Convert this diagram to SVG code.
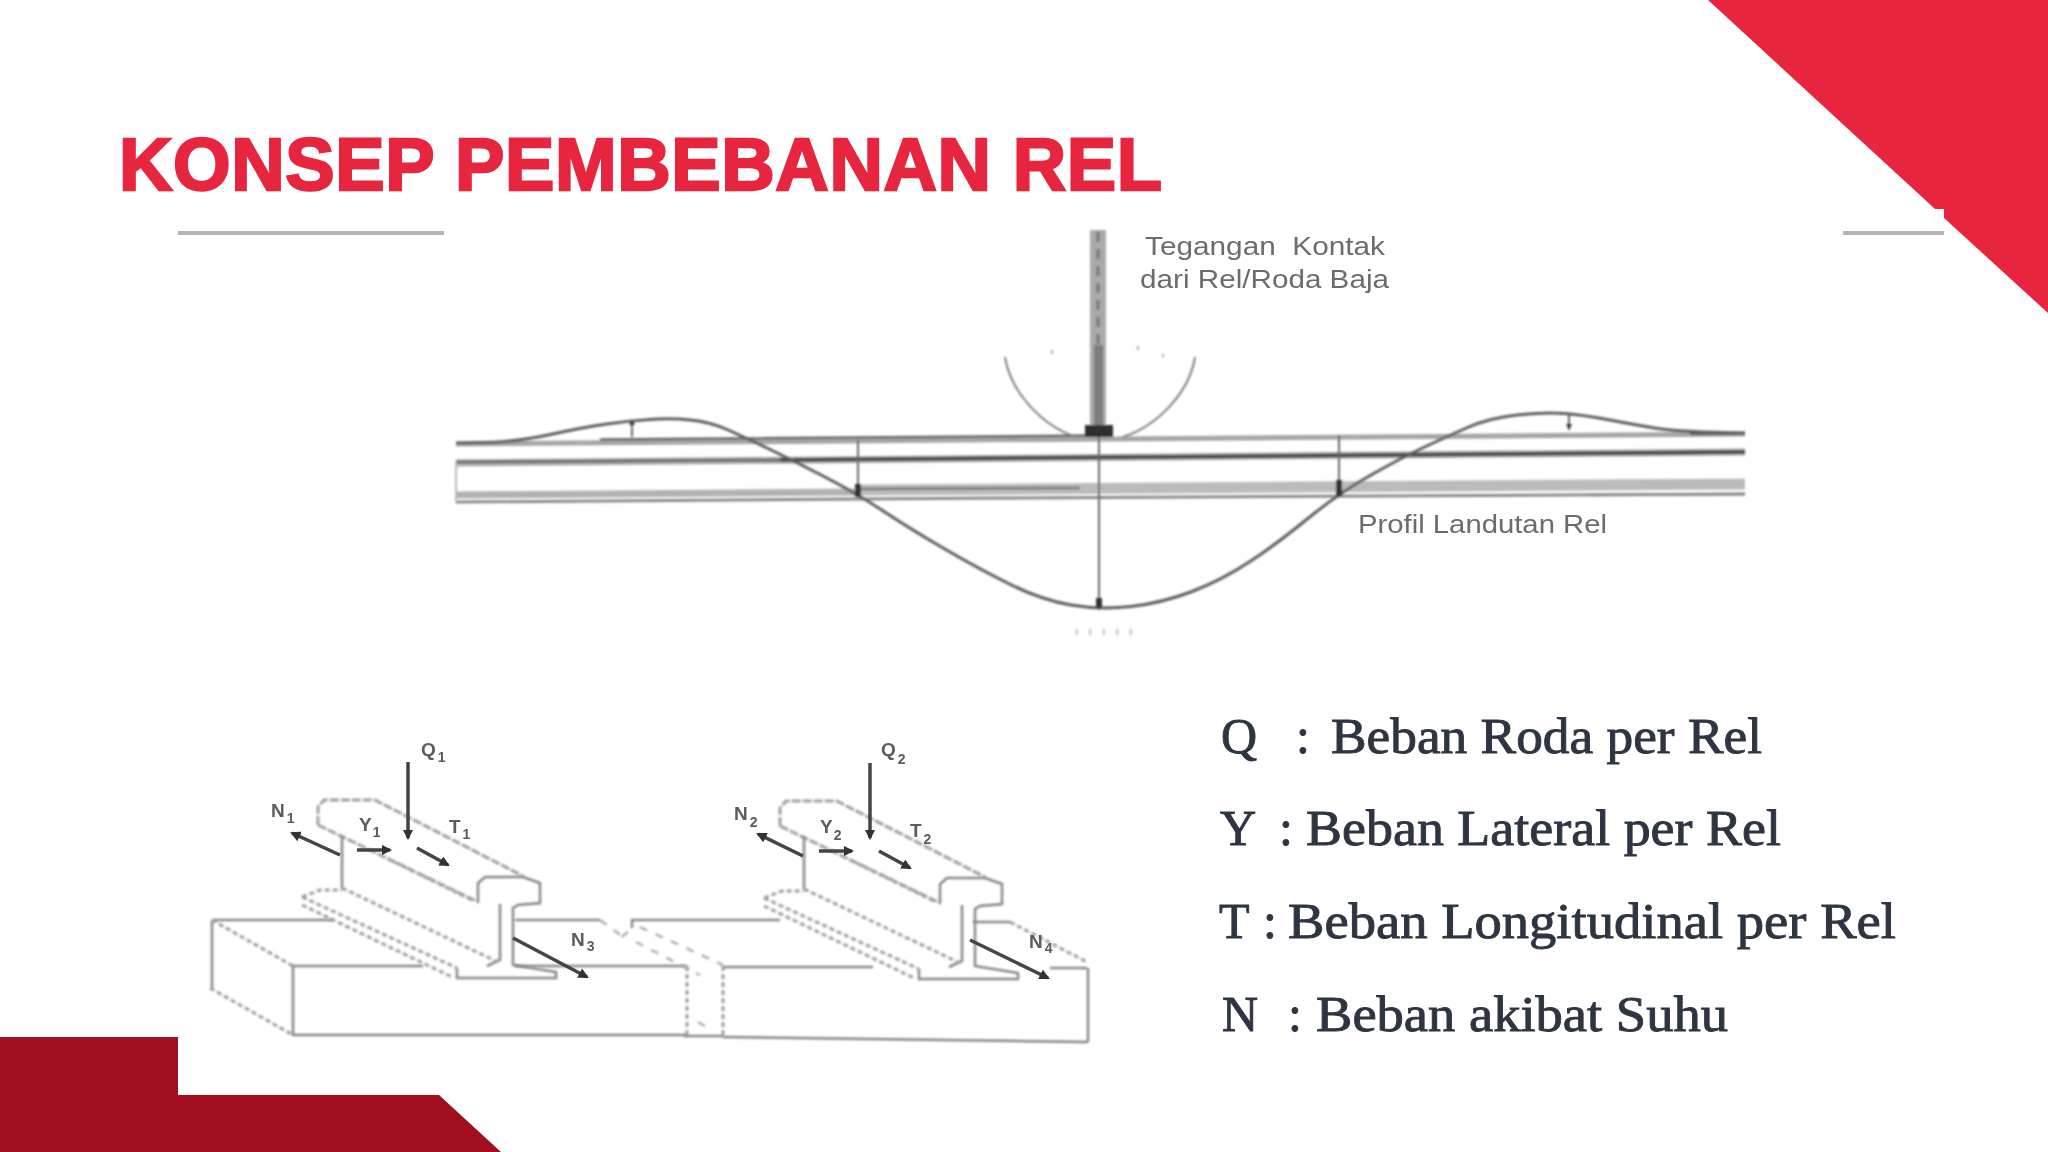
<svg xmlns="http://www.w3.org/2000/svg" xmlns:xlink="http://www.w3.org/1999/xlink" width="2048" height="1152" viewBox="0 0 2048 1152">
<style>
.ln{fill:none;stroke:#868686;stroke-width:2.5}
.lt{fill:none;stroke:#a0a0a0;stroke-width:3;stroke-dasharray:9 2}
.dsh{fill:none;stroke:#a0a0a0;stroke-width:3;stroke-dasharray:5 3}
.gap{fill:none;stroke:#b0b0b0;stroke-width:2.5;stroke-dasharray:8 9}
.ar{fill:none;stroke:#444;stroke-width:3.5}
.lab{font-family:"Liberation Sans",Arial,sans-serif;font-size:19px;font-weight:bold;fill:#5c5c5c}
.sub{font-size:14px}
.cap{font-family:"Liberation Sans",Arial,sans-serif;font-size:26px;fill:#6c6c6c}
.leg{font-family:"Liberation Serif","Times New Roman",serif;font-size:50px;fill:#2f3642;stroke:#2f3642;stroke-width:.9}
.rule{fill:#b4b4b4}
</style>
<defs>
<filter id="soft" x="-5%" y="-5%" width="110%" height="110%"><feGaussianBlur stdDeviation="0.9"/></filter>
<filter id="softer" x="-5%" y="-5%" width="110%" height="110%"><feGaussianBlur stdDeviation="0.7"/></filter>
<marker id="hd" markerWidth="3" markerHeight="3" refX="2.4" refY="1.5" orient="auto-start-reverse"><path d="M0 0L3 1.5L0 3Z" fill="#333"/></marker>
<g id="rail">
<path class="lt" d="M318 825V807L324 800H375L523 876"/>
<path class="lt" d="M318 825L478 902"/>
<path class="ln" d="M478 903V883L485 877H523L540 883V903L518 905L513 908V965L556 972V978H457V968"/>
<path class="ln" d="M500 904V960L487 966"/>
<path class="ln" d="M342 835V888"/>
<path class="dsh" d="M342 888L500 963"/>
<path class="dsh" d="M302 897L320 890H342"/>
<path class="dsh" d="M302 897L457 968"/>
<path class="dsh" d="M302 905L452 977"/>
<path class="dsh" d="M388 859L472 900"/>
</g>
</defs>
<rect width="2048" height="1152" fill="#fff"/>

<g id="decor-top"><path d="M1708 0H2048V313L1944 218V209H1935Z" fill="#e8253f"/></g>
<g id="decor-bottom"><path d="M0 1037H178V1095H439L501 1152H0Z" fill="#a00e20"/></g>

<g id="title"><text x="119" y="190" font-family="Liberation Sans,Arial,sans-serif" font-size="74" font-weight="bold" fill="#e8253f" stroke="#e8253f" stroke-width="2.4" textLength="1043" lengthAdjust="spacing">KONSEP PEMBEBANAN REL</text></g>
<rect class="rule" x="178" y="231" width="266" height="4"/>
<rect class="rule" x="1843" y="231" width="101" height="4"/>

<g id="profile" filter="url(#soft)">
<path d="M456 444L1745 434" stroke="#a6a6a6" stroke-width="5" fill="none"/>
<path d="M600 439.5L1100 435.5M1690 434L1745 433.5" stroke="#666" stroke-width="2.5" fill="none"/>
<path d="M456 463L1745 452" stroke="#ababab" stroke-width="7" fill="none"/>
<path d="M780 460L1745 452" stroke="#444" stroke-width="3.5" fill="none"/>
<path d="M456 462L780 460" stroke="#666" stroke-width="2.5" fill="none"/>
<path d="M456 495L860 492" stroke="#b2b2b2" stroke-width="7" fill="none"/>
<path d="M860 490L1745 484" stroke="#bbb" stroke-width="11" fill="none"/>
<path d="M860 489L1080 488M1590 495L1745 494" stroke="#777" stroke-width="2.5" fill="none"/>
<path d="M456 502L1000 498L1745 494" stroke="#8a8a8a" stroke-width="3" fill="none"/>
<path d="M456 462V502" stroke="#bbb" stroke-width="2" fill="none"/>
<path d="M456 443L486 442.5Q516 442 550.5 434.5Q585 427 606.5 424Q628 421 649.5 419.5Q671 418 690.5 420Q710 422 727 429.5Q744 437 768 448.5Q792 460 824 476.5Q856 493 884 511.5Q912 530 946.5 550Q981 570 1011.5 585Q1042 600 1071 605Q1100 610 1131 606.5Q1162 603 1192 591.5Q1222 580 1250 561.5Q1278 543 1308.5 518Q1339 493 1371 475Q1403 457 1424.5 447Q1446 437 1467.5 427.5Q1489 418 1517 415Q1545 412 1564.5 413.5Q1584 415 1610 420Q1636 425 1657.5 428.5Q1679 432 1745 433" fill="none" stroke="#5e5e5e" stroke-width="3"/>
<path d="M1005 357C1010 390 1040 425 1076 437M1195 357C1190 390 1160 425 1123 437" fill="none" stroke="#7e7e7e" stroke-width="2"/>
<rect x="1090" y="230" width="16" height="197" fill="#aaa"/>
<rect x="1094" y="345" width="9" height="82" fill="#7d7d7d"/>
<path d="M1098 232V345" stroke="#808080" stroke-width="4" stroke-dasharray="10 7" fill="none"/>
<rect x="1085" y="425" width="28" height="12" fill="#2e2e2e"/>
<path d="M858 440V493M1099 437V610M1339 435V490M632 422V437M1569 415V430" stroke="#666" stroke-width="2" fill="none"/>
<path d="M855 484h6v13h-6zM1336 480h6v16h-6zM1096 598h6v10h-6zM629 425l3-5l3 5zM1566 424h6l-3 6z" fill="#333"/>
<path d="M1076 632H1132" stroke="#aaa" stroke-width="6" stroke-dasharray="1.5 12" fill="none"/>
<path d="M1052 350v4M1138 346v4M1163 354v3" stroke="#aaa" stroke-width="2" fill="none"/>
</g>

<g id="profile-labels" filter="url(#softer)">
<text class="cap" x="1145" y="255" xml:space="preserve" textLength="240" lengthAdjust="spacingAndGlyphs">Tegangan  Kontak</text>
<text class="cap" x="1140" y="288" textLength="249" lengthAdjust="spacingAndGlyphs">dari Rel/Roda Baja</text>
<text class="cap" x="1358" y="533" textLength="249" lengthAdjust="spacingAndGlyphs">Profil Landutan Rel</text>
</g>

<g id="sleeper-left" filter="url(#soft)">
<path class="ln" d="M212 920V988M293 966V1035H687M293 966H423M515 966H687M212 920H333M515 920H600"/>
<path class="dsh" d="M212 920L293 966M210 988L293 1035"/>
<path class="dsh" d="M687 966V1035"/>
<path class="gap" d="M600 920L623 937"/>
</g>
<g id="sleeper-right" filter="url(#soft)">
<path class="ln" d="M632 928V920H780M723 967H873M973 922H1010M1050 968H1087M1088 968V1042M723 1037L1088 1042"/>
<path class="gap" d="M640 927L723 965M636 942L700 975"/>
<path class="dsh" d="M723 966V1037"/>
<path class="dsh" d="M1010 922L1087 962"/>
<path class="gap" d="M622 937L632 928M698 1022L708 1028"/>
<path class="ln" d="M684 1036H723"/>
</g>

<g id="rail-left" filter="url(#soft)"><use xlink:href="#rail" href="#rail"/></g>
<g id="rail-right" filter="url(#soft)"><use xlink:href="#rail" href="#rail" transform="translate(462 1)"/></g>

<g id="connectors" filter="url(#softer)">
<path class="ar" d="M408 762V838" marker-end="url(#hd)"/>
<path class="ar" d="M340 855L292 833" marker-end="url(#hd)"/>
<path class="ar" d="M357 850H390" marker-end="url(#hd)"/>
<path class="ar" d="M417 848L448 865" marker-end="url(#hd)"/>
<path class="ar" d="M513 938L587 977" marker-end="url(#hd)"/>
<path class="ar" d="M870 763V838" marker-end="url(#hd)"/>
<path class="ar" d="M803 856L758 834" marker-end="url(#hd)"/>
<path class="ar" d="M819 851H852" marker-end="url(#hd)"/>
<path class="ar" d="M879 851L910 868" marker-end="url(#hd)"/>
<path class="ar" d="M970 940L1048 978" marker-end="url(#hd)"/>
</g>

<g id="rail-labels" filter="url(#softer)">
<text class="lab" x="421" y="756">Q<tspan class="sub" dx="2" dy="6">1</tspan></text>
<text class="lab" x="271" y="817">N<tspan class="sub" dx="2" dy="6">1</tspan></text>
<text class="lab" x="359" y="831">Y<tspan class="sub" dx="1" dy="6">1</tspan></text>
<text class="lab" x="449" y="833">T<tspan class="sub" dx="2" dy="6">1</tspan></text>
<text class="lab" x="571" y="946">N<tspan class="sub" dx="2" dy="5">3</tspan></text>
<text class="lab" x="881" y="756">Q<tspan class="sub" dx="2" dy="8">2</tspan></text>
<text class="lab" x="734" y="820">N<tspan class="sub" dx="2" dy="7">2</tspan></text>
<text class="lab" x="820" y="833">Y<tspan class="sub" dx="1" dy="7">2</tspan></text>
<text class="lab" x="910" y="837">T<tspan class="sub" dx="2" dy="7">2</tspan></text>
<text class="lab" x="1029" y="948">N<tspan class="sub" dx="2" dy="5">4</tspan></text>
</g>

<g id="legend" filter="url(#softer)">
<text class="leg" y="753"><tspan x="1221">Q</tspan><tspan x="1296">:</tspan><tspan x="1331" textLength="431" lengthAdjust="spacingAndGlyphs">Beban Roda per Rel</tspan></text>
<text class="leg" y="845"><tspan x="1220">Y</tspan><tspan x="1279">:</tspan><tspan x="1306" textLength="475" lengthAdjust="spacingAndGlyphs">Beban Lateral per Rel</tspan></text>
<text class="leg" y="938"><tspan x="1219">T</tspan><tspan x="1263">:</tspan><tspan x="1288" textLength="608" lengthAdjust="spacingAndGlyphs">Beban Longitudinal per Rel</tspan></text>
<text class="leg" y="1031"><tspan x="1222">N</tspan><tspan x="1288">:</tspan><tspan x="1316" textLength="412" lengthAdjust="spacingAndGlyphs">Beban akibat Suhu</tspan></text>
</g>
</svg>
